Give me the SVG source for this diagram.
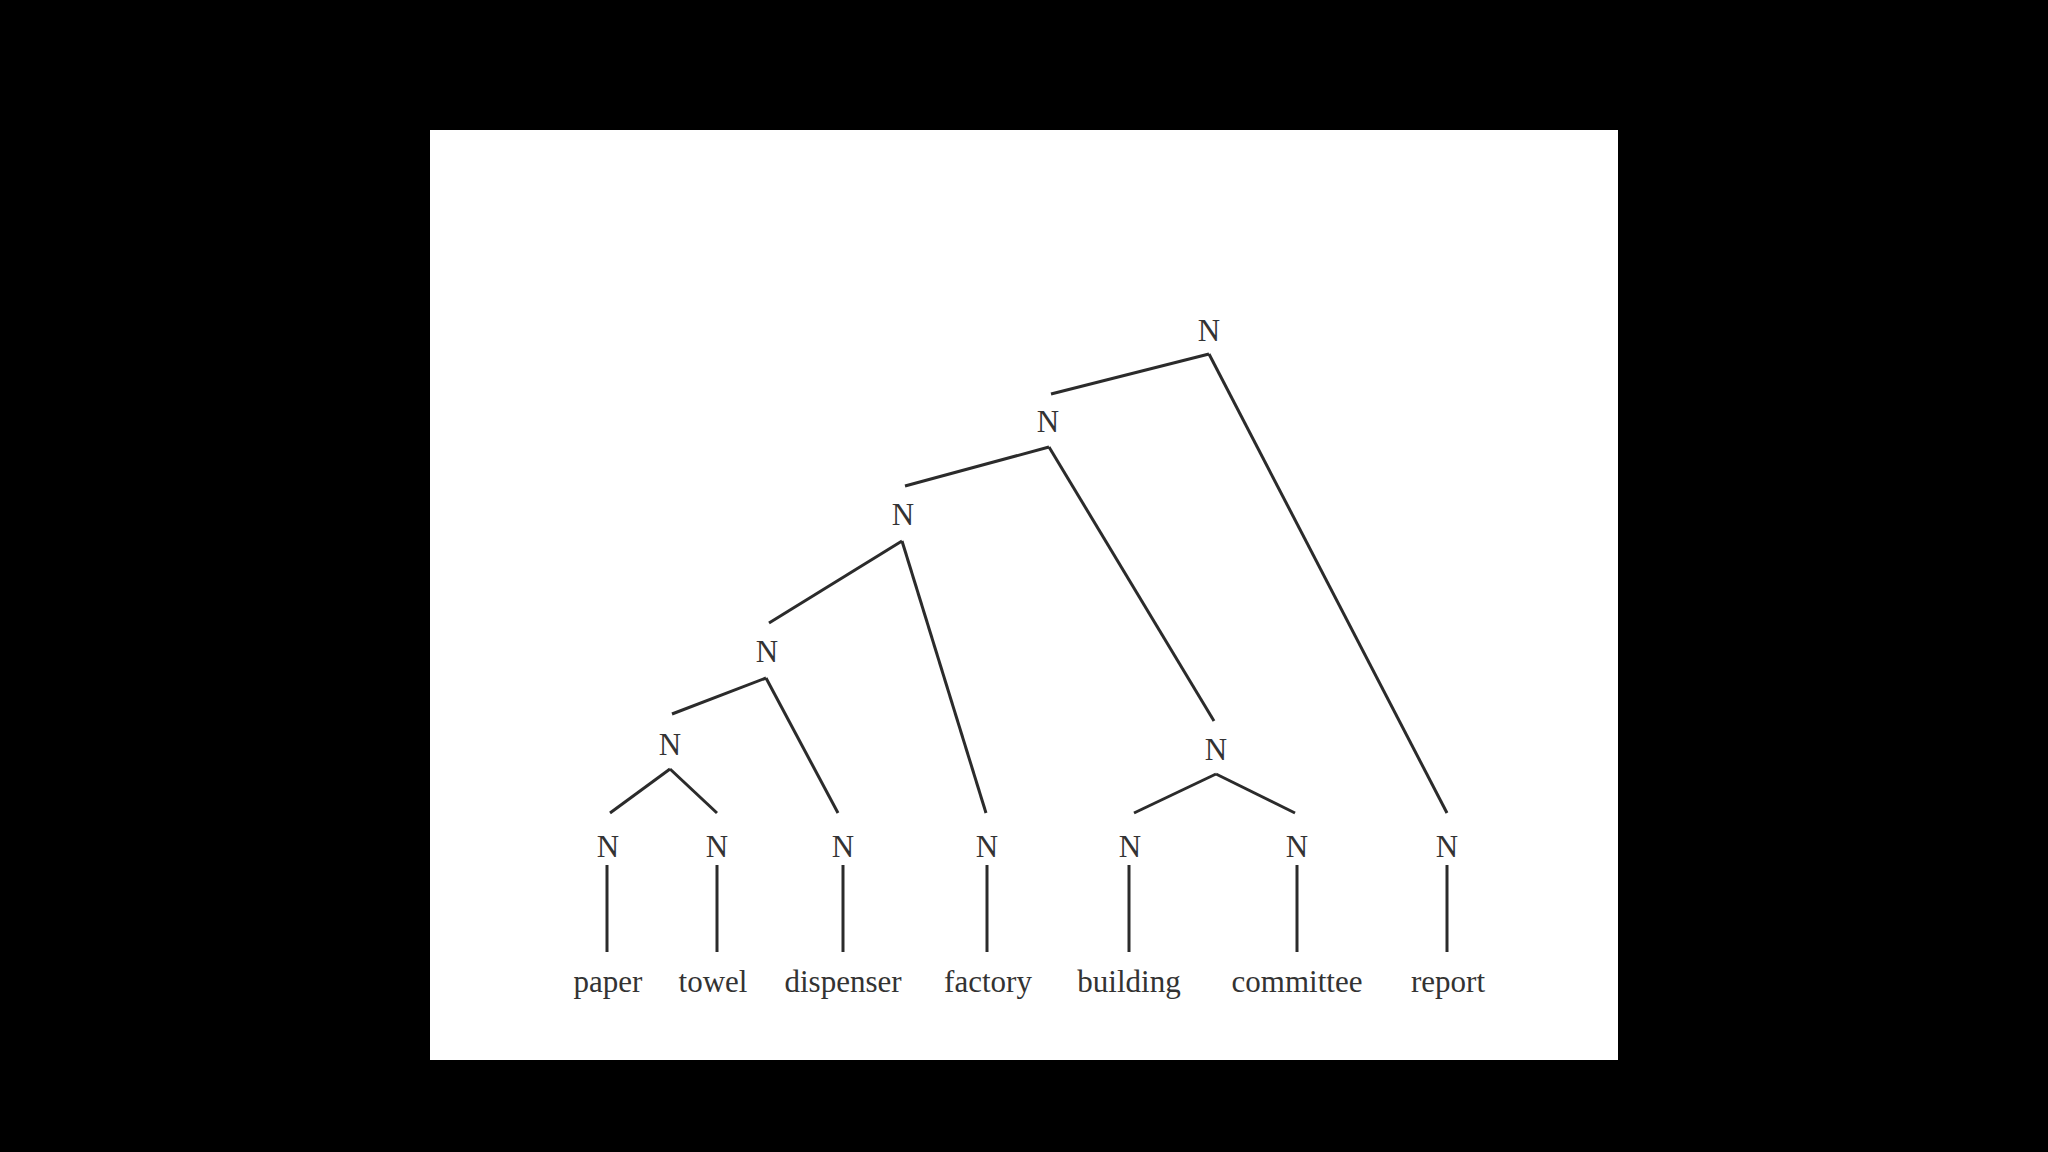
<svg xmlns="http://www.w3.org/2000/svg" width="2048" height="1152" viewBox="0 0 2048 1152">
<style>
.lbl{font-family:"Liberation Serif","Times New Roman",serif;font-size:31px;fill:#333;text-anchor:middle}
.edge{stroke:#2b2b2b;stroke-width:3;fill:none;stroke-linecap:butt}
</style>
<rect x="0" y="0" width="2048" height="1152" fill="#000"/>
<rect x="430" y="130" width="1188" height="930" fill="#fff"/>
<g id="connectors">
<line class="edge" x1="1209" y1="354" x2="1051" y2="394"/>
<line class="edge" x1="1209" y1="354" x2="1447" y2="813"/>
<line class="edge" x1="1049" y1="447" x2="905" y2="486"/>
<line class="edge" x1="1049" y1="447" x2="1214" y2="721"/>
<line class="edge" x1="902" y1="541" x2="769" y2="623"/>
<line class="edge" x1="902" y1="541" x2="986" y2="813"/>
<line class="edge" x1="766" y1="678" x2="672" y2="714"/>
<line class="edge" x1="766" y1="678" x2="838" y2="813"/>
<line class="edge" x1="670" y1="769" x2="610" y2="813"/>
<line class="edge" x1="670" y1="769" x2="717" y2="813"/>
<line class="edge" x1="1216" y1="774" x2="1134" y2="813"/>
<line class="edge" x1="1216" y1="774" x2="1295" y2="813"/>
<line class="edge" x1="607" y1="865" x2="607" y2="952"/>
<line class="edge" x1="717" y1="865" x2="717" y2="952"/>
<line class="edge" x1="843" y1="865" x2="843" y2="952"/>
<line class="edge" x1="987" y1="865" x2="987" y2="952"/>
<line class="edge" x1="1129" y1="865" x2="1129" y2="952"/>
<line class="edge" x1="1297" y1="865" x2="1297" y2="952"/>
<line class="edge" x1="1447" y1="865" x2="1447" y2="952"/>
</g>
<g id="n-root"><text class="lbl" x="1209" y="341">N</text></g>
<g id="n2"><text class="lbl" x="1048" y="432">N</text></g>
<g id="n3"><text class="lbl" x="903" y="525">N</text></g>
<g id="n4"><text class="lbl" x="767" y="662">N</text></g>
<g id="n5"><text class="lbl" x="670" y="755">N</text></g>
<g id="n6"><text class="lbl" x="1216" y="760">N</text></g>
<g id="leaf-paper"><text class="lbl" x="608" y="857">N</text><text class="lbl" x="608" y="992">paper</text></g>
<g id="leaf-towel"><text class="lbl" x="717" y="857">N</text><text class="lbl" x="713" y="992">towel</text></g>
<g id="leaf-dispenser"><text class="lbl" x="843" y="857">N</text><text class="lbl" x="843" y="992">dispenser</text></g>
<g id="leaf-factory"><text class="lbl" x="987" y="857">N</text><text class="lbl" x="988" y="992">factory</text></g>
<g id="leaf-building"><text class="lbl" x="1130" y="857">N</text><text class="lbl" x="1129" y="992">building</text></g>
<g id="leaf-committee"><text class="lbl" x="1297" y="857">N</text><text class="lbl" x="1297" y="992">committee</text></g>
<g id="leaf-report"><text class="lbl" x="1447" y="857">N</text><text class="lbl" x="1448" y="992">report</text></g>
</svg>
